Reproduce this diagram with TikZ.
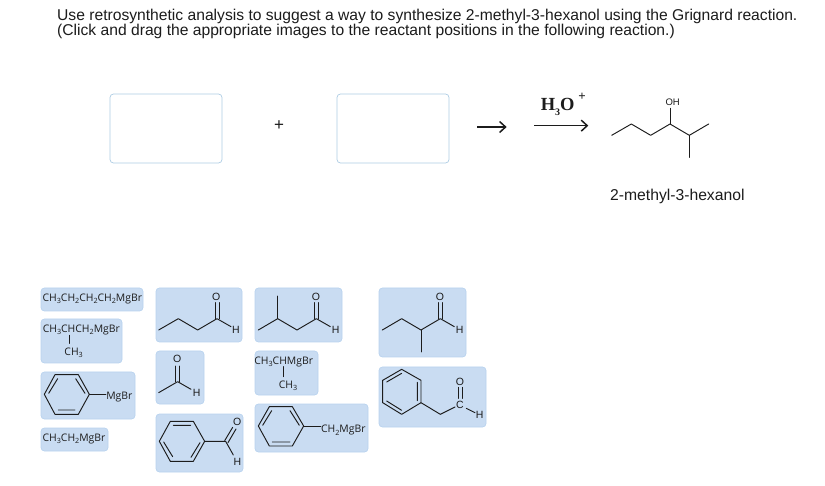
\documentclass[tikz,border=0pt]{standalone}
\usepackage{fontspec}
\setmainfont{Liberation Sans}
\newfontfamily\chemfont{Open Sans}
\newfontfamily\boldserif{Liberation Serif}
\usetikzlibrary{arrows.meta}
\definecolor{tilefill}{HTML}{C9DCF2}
\definecolor{tileedge}{HTML}{B9D3EF}
\definecolor{slotedge}{HTML}{AECDE4}
\definecolor{inkgrey}{HTML}{1C1C1C}
\tikzset{
  tile/.style={draw=tileedge,fill=tilefill,line width=0.7pt,rounded corners=3.5pt},
  slot/.style={draw=slotedge,fill=white,line width=0.7pt,rounded corners=3.5pt},
  bond/.style={draw=inkgrey,line width=0.95pt,line cap=round,line join=round},
  chem/.style={inner sep=0pt,yshift=-2pt,text=inkgrey,font=\chemfont\fontsize{10.4}{11}\selectfont},
  atom/.style={inner sep=0pt,text=inkgrey,font=\fontsize{10.5}{11}\selectfont},
  sans/.style={inner sep=0pt,text=inkgrey,font=\fontsize{15.65}{16}\selectfont,anchor=west},
  reactarrow/.style={draw=inkgrey,line width=1.5pt,-{Straight Barb[length=6pt,width=11pt,line width=1.5pt]}},
  zoomA/.style={shift={(30,280)},x=0.33333pt,y=-0.33333pt},
  zoomB/.style={shift={(245,280)},x=0.33333pt,y=-0.33333pt},
  zoomC/.style={shift={(460,80)},x=0.33333pt,y=-0.33333pt}
}
\newcommand{\sbt}[1]{\raisebox{-0.22em}{\fontsize{7.2}{8}\selectfont #1}}
\begin{document}
\begin{tikzpicture}[x=1pt,y=-1pt]
\useasboundingbox (0,0) rectangle (825,486);
\fill[white] (0,0) rectangle (825,486);
% title
\node[sans] (title1) at (57,16) {Use retrosynthetic analysis to suggest a way to synthesize 2-methyl-3-hexanol using the Grignard reaction.};
\node[sans] (title2) at (57,31) {(Click and drag the appropriate images to the reactant positions in the following reaction.)};
% slots
\draw[slot] (110,94) rectangle (222,163);
\draw[slot] (337,94) rectangle (449,163);
\node[inner sep=0pt,text=inkgrey,font=\fontsize{17}{18}\selectfont] (plus) at (279,126) {+};
% tiles
\draw[tile] (41,288) rectangle (143,311);
\draw[tile] (41,319) rectangle (122,363);
\draw[tile] (41,372) rectangle (135,419);
\draw[tile] (41,428) rectangle (108,451);
\draw[tile] (156,288) rectangle (242,342);
\draw[tile] (156,351) rectangle (204,404);
\draw[tile] (156,414) rectangle (243,472);
\draw[tile] (255,288) rectangle (342,342);
\draw[tile] (255,351) rectangle (318,395);
\draw[tile] (255,404) rectangle (368,452);
\draw[tile] (379,288) rectangle (466,357);
\draw[tile] (379,367) rectangle (486,427);
% reaction
\begin{scope}[zoomC]
\coordinate (arrA1) at (52,141);
\coordinate (arrA2) at (140,141);
\coordinate (arrB1) at (223,137);
\coordinate (arrB2) at (385,137);
\draw[reactarrow] (arrA1) -- (arrA2);
\draw[reactarrow] (arrB1) -- (arrB2);
\node[inner sep=0pt,text=inkgrey,font=\boldserif\bfseries\fontsize{18.5}{19}\selectfont] (hthree) at (293,81) {H\raisebox{-0.3em}{\fontsize{10}{10}\selectfont 3}O};
\node[inner sep=0pt,text=inkgrey,font=\boldserif\bfseries\fontsize{13}{13}\selectfont] (hplus) at (366,50) {+};
\draw[bond] (455,166)--(514,132)--(572,166)--(630,132)--(688,166)--(746,132);
\draw[bond] (688,166)--(688,232);
\draw[bond] (630,132)--(630,85);
\node[atom,font=\fontsize{9.5}{10}\selectfont] (oh) at (638,66) {OH};
\node[inner sep=0pt,text=inkgrey,font=\fontsize{15.7}{16}\selectfont] (name) at (652,348) {2-methyl-3-hexanol};
\end{scope}
% left column molecules
\begin{scope}[zoomA]
\node[chem] (f1) at (187,50) {CH\sbt{3}CH\sbt{2}CH\sbt{2}CH\sbt{2}MgBr};
\node[chem] (f2) at (154,143) {CH\sbt{3}CHCH\sbt{2}MgBr};
\draw[bond] (117,166)--(117,190);
\node[chem] (f2b) at (131,212) {CH\sbt{3}};
\draw[bond] (43,343)--(75,284)--(145,284)--(178,343)--(145,403)--(75,403)--cycle;
\draw[bond] (56,340)--(83,296) (137,296)--(165,340) (85,390)--(135,390);
\draw[bond] (178,343)--(228,343);
\node[chem] (f3) at (268,346) {MgBr};
\node[chem] (f4) at (132,470) {CH\sbt{3}CH\sbt{2}MgBr};
% butanal
\draw[bond] (386,150)--(445,116)--(503,150)--(561,116)--(603,140);
\draw[bond] (555,116)--(555,68) (567,116)--(567,68);
\node[atom] (o1) at (559,50) {O};
\node[atom] (h1) at (618,150) {H};
% acetaldehyde
\draw[bond] (386,338)--(443,305)--(483,328);
\draw[bond] (437,305)--(437,258) (449,305)--(449,258);
\node[atom] (o2) at (442,238) {O};
\node[atom] (h2) at (500,340) {H};
% benzaldehyde
\draw[bond] (388,484)--(421,424)--(490,424)--(524,484)--(490,544)--(421,544)--cycle;
\draw[bond] (430,436)--(482,436) (401,486)--(428,530) (483,532)--(510,488);
\draw[bond] (524,484)--(587,484)--(610,525);
\draw[bond] (584,482)--(608,442) (594,488)--(618,447);
\node[atom] (o3) at (622,427) {O};
\node[atom] (h3) at (622,545) {H};
\end{scope}
\begin{scope}[zoomB]
% 3-methylbutanal
\draw[bond] (40,150)--(98,116)--(156,150)--(214,116)--(256,140);
\draw[bond] (98,116)--(98,48);
\draw[bond] (208,116)--(208,68) (220,116)--(220,68);
\node[atom] (o4) at (213,50) {O};
\node[atom] (h4) at (272,151) {H};
% 2-methylbutanal
\draw[bond] (412,150)--(470,116)--(528,150)--(586,116)--(628,140);
\draw[bond] (528,150)--(528,216);
\draw[bond] (580,116)--(580,68) (592,116)--(592,68);
\node[atom] (o5) at (585,50) {O};
\node[atom] (h5) at (644,151) {H};
% isopropyl
\node[chem] (f5) at (116,240) {CH\sbt{3}CHMgBr};
\draw[bond] (114,260)--(114,290);
\node[chem] (f5b) at (129,311) {CH\sbt{3}};
% benzyl MgBr
\draw[bond] (40,438)--(73,380)--(142,380)--(176,438)--(142,498)--(73,498)--cycle;
\draw[bond] (53,436)--(80,392) (135,392)--(163,436) (82,486)--(135,486);
\draw[bond] (176,438)--(228,438);
\node[chem] (f6) at (295,445) {CH\sbt{2}MgBr};
% phenylacetaldehyde
\draw[bond] (470,268)--(528,301)--(528,368)--(470,403)--(413,368)--(413,301)--cycle;
\draw[bond] (425,306)--(470,280) (517,307)--(517,362) (425,363)--(470,391);
\draw[bond] (528,368)--(586,403)--(630,381);
\draw[bond] (664,385)--(690,398);
\draw[bond] (639,355)--(639,322) (651,355)--(651,322);
\node[atom] (c6) at (645,374) {C};
\node[atom] (o6) at (645,305) {O};
\node[atom] (h6) at (704,406) {H};
\end{scope}
\end{tikzpicture}
\end{document}
